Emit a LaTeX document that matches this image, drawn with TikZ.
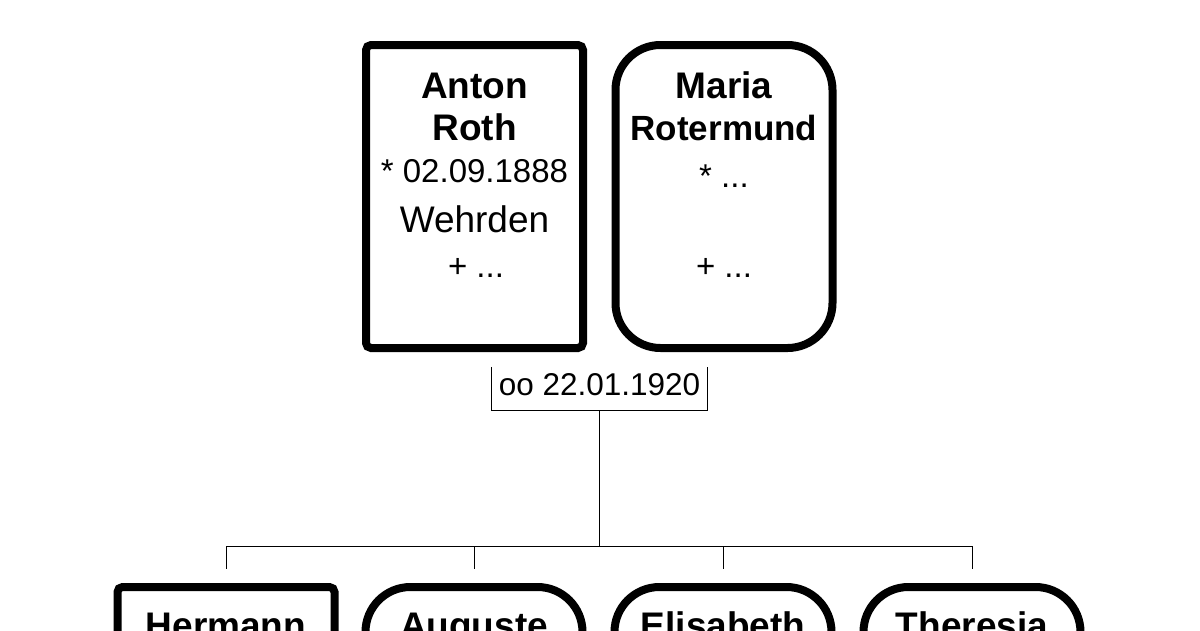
\documentclass[tikz,border=0pt]{standalone}
\usepackage{fontspec}
\setmainfont{Liberation Sans}
\begin{document}
\begin{tikzpicture}[x=1pt,y=-1pt,
  person/.style={draw, line width=8pt, inner sep=0pt, minimum width=217pt},
  sqbox/.style={person, rounded corners=5pt},
  rdbox/.style={person, rounded corners=45pt},
  nm/.style={font=\fontsize{37}{40}\selectfont\bfseries, anchor=base, inner sep=0pt},
  tx/.style={font=\fontsize{33}{36}\selectfont, anchor=base, inner sep=0pt},
  link/.style={line width=1pt}]
\useasboundingbox (0,0) rectangle (1200,630);
\clip (0,0) rectangle (1200,630);
\fill[white] (0,0) rectangle (1200,630);

% parents
\node[sqbox, minimum height=303pt] (anton) at (474.5,196.5) {};
\node[rdbox, minimum height=303pt] (maria) at (724,196.5) {};

\node[nm] (antonA) at (474.5,98) {Anton};
\node[nm] (antonB) at (474.5,140) {Roth};
\node[tx] (antonC) at (474.5,182) {* 02.09.1888};
\node[tx, font=\fontsize{37}{40}\selectfont] (antonD) at (474.5,232) {Wehrden};
\node[tx] (antonE) at (476,277) {+ ...};

\node[nm] (mariaA) at (724,98) {Maria};
\node[nm, font=\fontsize{35}{40}\selectfont\bfseries] (mariaB) at (724,140) {Rotermund};
\node[tx] (mariaC) at (724,187) {* ...};
\node[tx] (mariaE) at (724,277) {+ ...};

% marriage
\node[inner sep=0pt, minimum width=215pt, minimum height=43pt] (mbox) at (599.5,388.5) {};
\draw[link] (mbox.north west) -- (mbox.south west) -- (mbox.south east) -- (mbox.north east);
\node[tx, font=\fontsize{31.5}{34}\selectfont] (mtext) at (599.5,395) {oo 22.01.1920};

% children
\node[sqbox, minimum height=300pt] (hermann) at (226,737) {};
\node[rdbox, minimum height=300pt] (auguste) at (474,737) {};
\node[rdbox, minimum height=300pt] (elisabeth) at (723,737) {};
\node[rdbox, minimum height=300pt] (theresia) at (972,737) {};

\node[nm] (hermannA) at (226,638) {Hermann};
\node[nm] (augusteA) at (474,638) {Auguste};
\node[nm] (elisabethA) at (723,638) {Elisabeth};
\node[nm] (theresiaA) at (972,638) {Theresia};

% connectors
\coordinate (hub) at (599.5,546);
\coordinate (tH) at (226,546);
\coordinate (tA) at (474,546);
\coordinate (tE) at (723,546);
\coordinate (tT) at (972,546);
\coordinate (dH) at (226,569);
\coordinate (dA) at (474,569);
\coordinate (dE) at (723,569);
\coordinate (dT) at (972,569);
\draw[link] (mbox.south) -- (hub);
\draw[link] (tH) -- (tT);
\draw[link] (tH) -- (dH);
\draw[link] (tA) -- (dA);
\draw[link] (tE) -- (dE);
\draw[link] (tT) -- (dT);
\end{tikzpicture}
\end{document}
